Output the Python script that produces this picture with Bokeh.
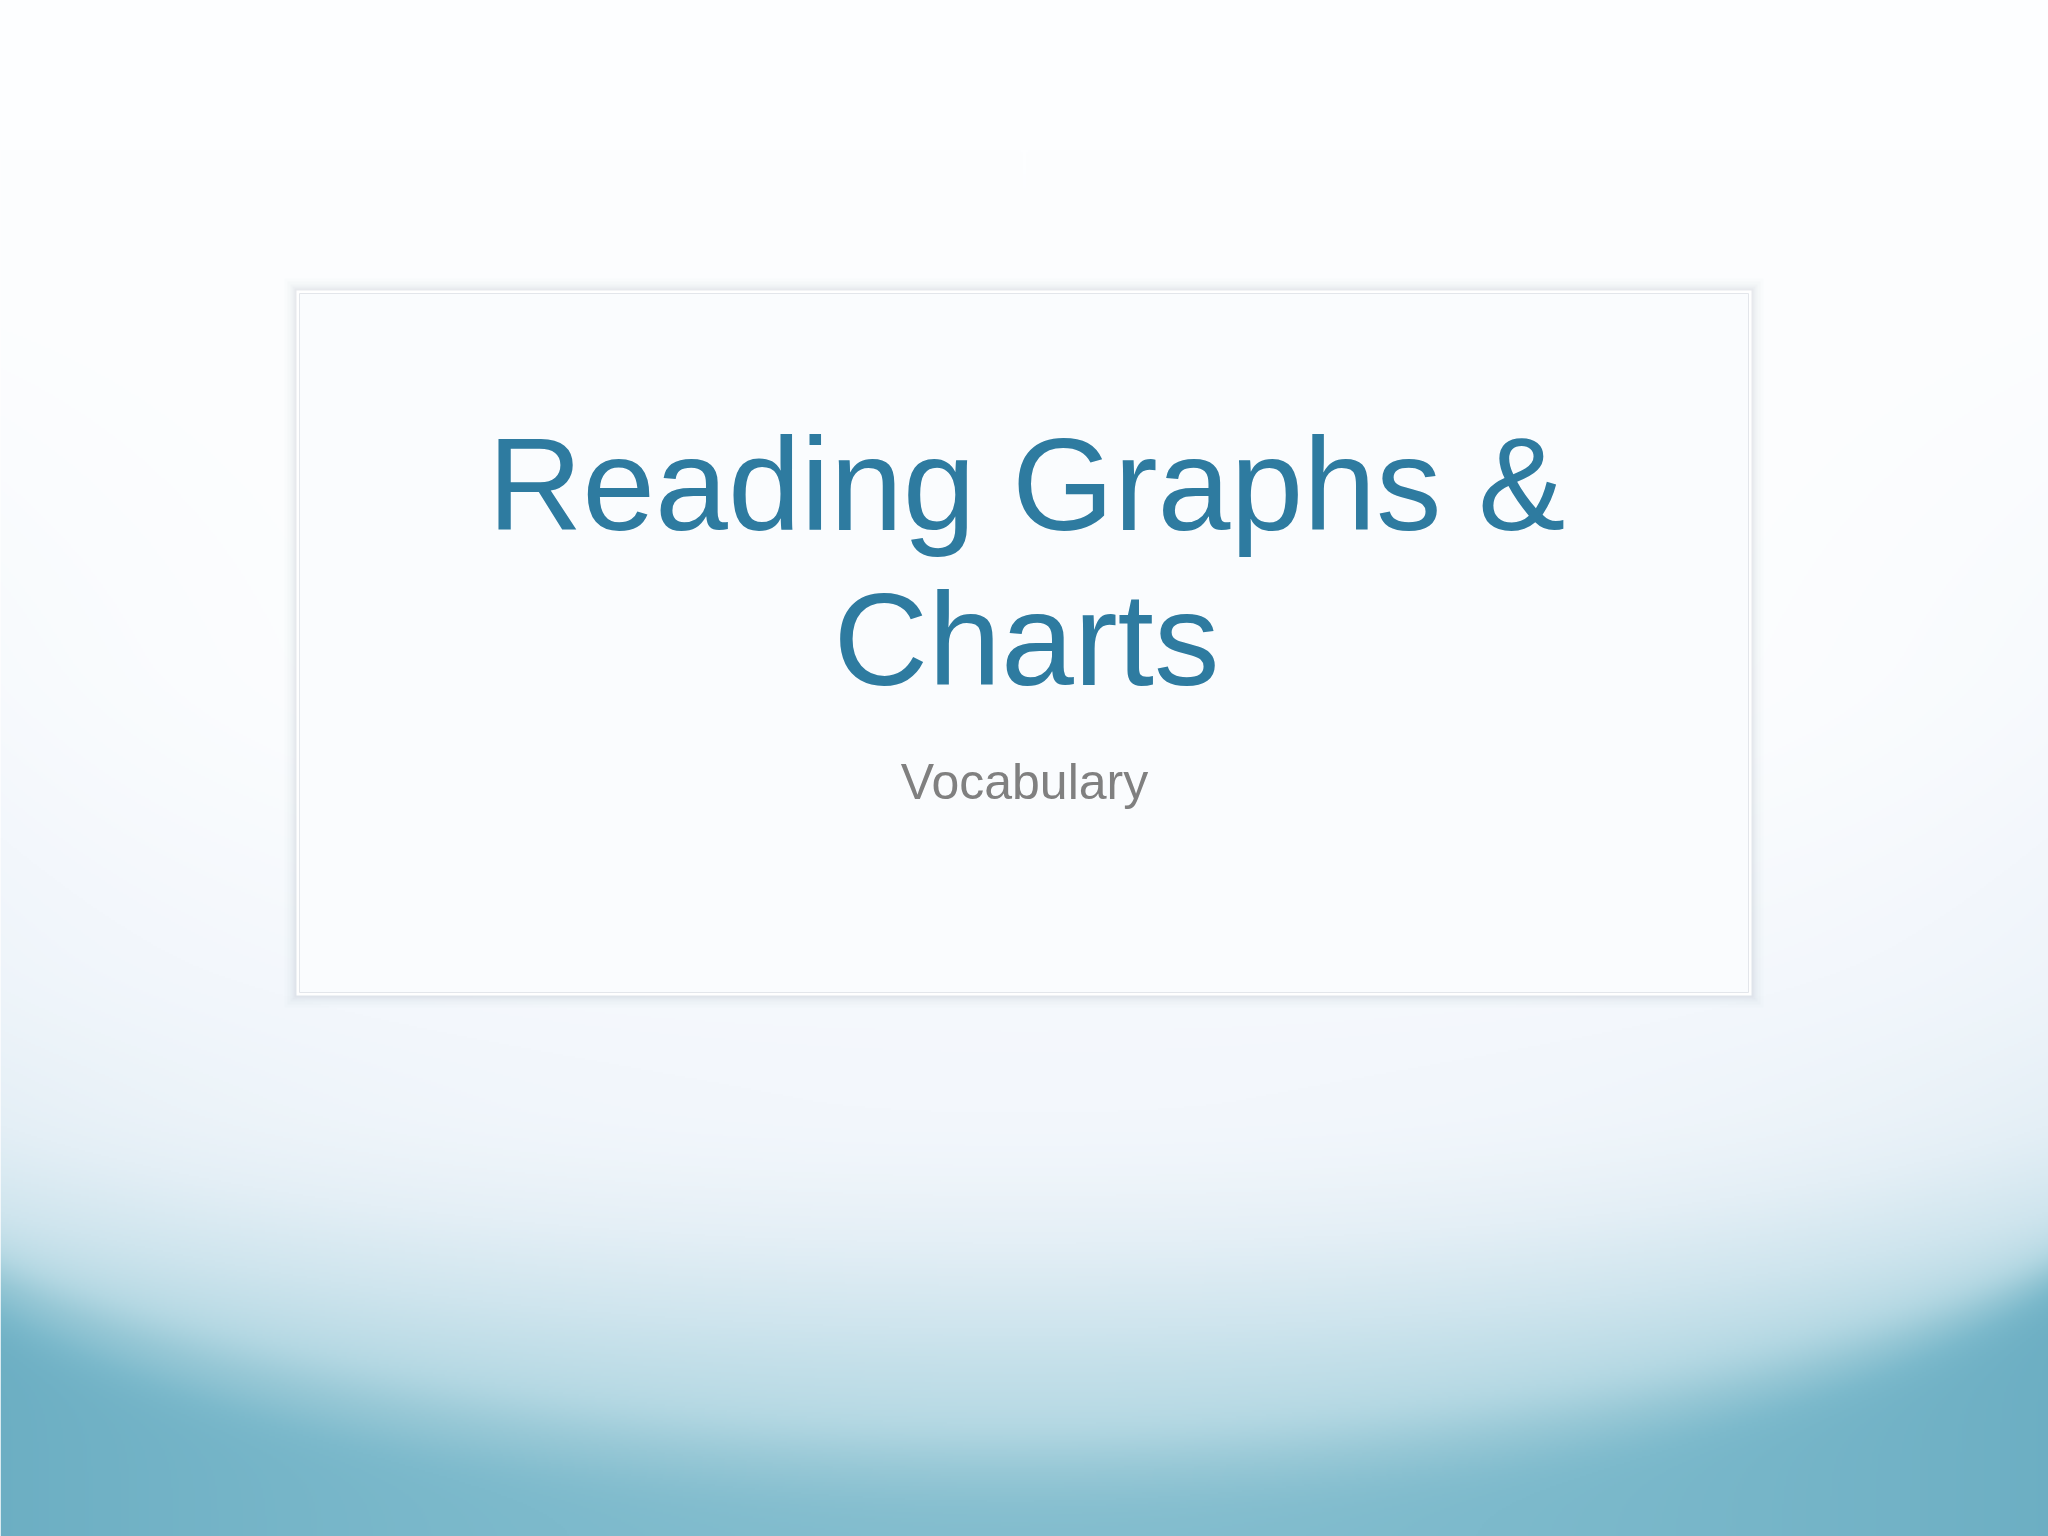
import numpy as np
from bokeh.plotting import figure
from bokeh.models import Range1d, ColumnDataSource
from bokeh.core.properties import value
from bokeh.embed import file_html
from bokeh.resources import INLINE

# ---- slide content ----
title_lines = ["Reading Graphs &", "Charts"]
subtitle_lines = ["Vocabulary"]

TITLE_COLOR = "#2e7ba0"
SUB_COLOR = "#808080"
FONT = "Liberation Sans"

# ---- page geometry (screen pixels; y measured from top of window) ----
W_PX, H_PX = 2048, 1536
PAGE_H = 1536


def up(y_top):
    """convert a top-down screen y into the plot's bottom-up data y"""
    return PAGE_H - y_top


# ---- background raster (soft teal swoosh at the bottom) ----
def smooth(a, b, v):
    t = np.clip((v - a) / (b - a), 0, 1)
    return t * t * (3 - 2 * t)


GW, GH = W_PX // 2, H_PX // 2
sx = (np.arange(GW) + 0.5) * (W_PX / GW)
y_up_rows = (np.arange(GH) + 0.5) * (H_PX / GH)
sy = PAGE_H - y_up_rows
X, Y = np.meshgrid(sx, sy)

# inner light bowl
bcx, bcy, brx, bry = 1020.0, 1097.0, 1180.0, 346.0
dxb = (X - bcx) / brx
yb = bcy + bry * np.sqrt(np.clip(1 - dxb ** 2, 0, 1))
m_in = 1 / (1 + np.exp(-(yb - Y) / 14.0))
# outer band
ocx, ocy, orx, ory = 1000.0, 1140.0, 1150.0, 350.0
dxo = (X - ocx) / orx
yo = ocy + ory * np.sqrt(np.clip(1 - dxo ** 2, 0, 1))
m_out = 1 / (1 + np.exp(-(yo - Y) / 16.0))

edge = (np.abs(X - 1024) / 1024.0)
t_in = (0.1 * smooth(650, 1150, Y) + 0.43 * smooth(1100, 1460, Y)
        + 0.15 * edge ** 2 * smooth(950, 1300, Y)
        + 0.07 * edge ** 4 * smooth(150, 900, Y))
t_b = 0.66 + 0.08 * edge ** 2 + 0.04 * smooth(1350, 1536, Y)
t_c = 0.82 + 0.16 * edge ** 2
t = m_in * t_in + (1 - m_in) * (m_out * t_b + (1 - m_out) * t_c)

stops = [0.0, 0.1, 0.25, 0.4, 0.55, 0.7, 0.85, 1.0]
cols = np.array([(253, 254, 255), (243, 247, 252), (228, 239, 246), (207, 229, 238),
                 (180, 216, 227), (151, 200, 214), (125, 186, 204), (106, 173, 194)], float)
rgba = np.zeros((GH, GW, 4), dtype=np.uint8)
for c in range(3):
    rgba[..., c] = np.interp(t, stops, cols[:, c]).astype(np.uint8)
rgba[..., 3] = 255
img = rgba.view(dtype=np.uint32).reshape((GH, GW))

p = figure(width=W_PX, height=H_PX,
           x_range=Range1d(0, W_PX),
           y_range=Range1d(0, H_PX),
           output_backend="svg", toolbar_location=None,
           x_axis_location=None, y_axis_location=None,
           min_border=0)
p.grid.visible = False
p.outline_line_color = None
p.background_fill_color = "#fdfeff"
p.border_fill_color = "#fdfeff"

p.image_rgba(image=[img], x=0, y=0, dw=W_PX, dh=H_PX)

# ---- title box ----
bx0, bx1, by0, by1 = 296, 1751, 290, 995  # top-down screen coords
for d, a in [(12, 0.025), (9, 0.03), (6, 0.04), (4, 0.045), (2, 0.055)]:
    p.quad(left=bx0 - d, right=bx1 + d, top=up(by0 - d), bottom=up(by1 + d),
           fill_color="#8d96a8", fill_alpha=a, line_color=None)
p.quad(left=bx0, right=bx1, top=up(by0), bottom=up(by1),
       fill_color="#ffffff", line_color=None)
p.quad(left=bx0 + 3, right=bx1 - 3, top=up(by0 + 3), bottom=up(by1 - 3),
       fill_color="#fafcfe", line_color="#e3e6eb", line_width=1)

# ---- texts ----
cx = 1026
TITLE_SIZE, SUB_SIZE = 131, 50
title_src = ColumnDataSource(dict(
    x=[cx] * len(title_lines),
    y=[up(532 + 155 * i - 0.37 * TITLE_SIZE) for i in range(len(title_lines))],
    text=title_lines))
p.text(x="x", y="y", text="text", source=title_src,
       text_font=value(FONT), text_font_size=f"{TITLE_SIZE}px", text_color=TITLE_COLOR,
       text_align="center", text_baseline="alphabetic")

sub_src = ColumnDataSource(dict(
    x=[cx - 2] * len(subtitle_lines),
    y=[up(798 + 60 * i - 0.34 * SUB_SIZE) for i in range(len(subtitle_lines))],
    text=subtitle_lines))
p.text(x="x", y="y", text="text", source=sub_src,
       text_font=value(FONT), text_font_size=f"{SUB_SIZE}px", text_color=SUB_COLOR,
       text_align="center", text_baseline="alphabetic")

open("out.html", "w").write(file_html(p, INLINE))
